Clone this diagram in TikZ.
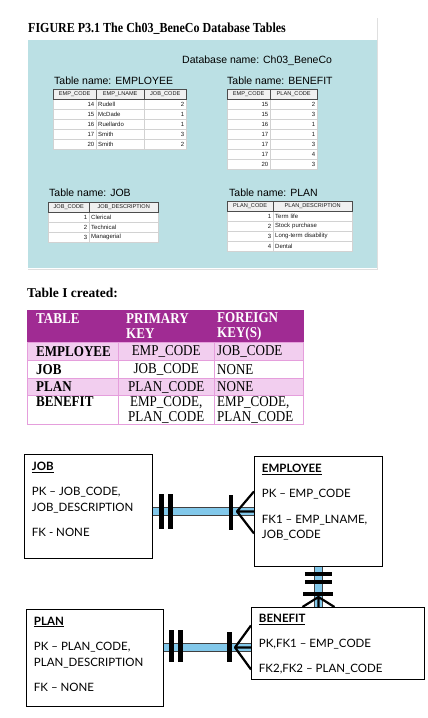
\documentclass[tikz,border=0pt]{standalone}
\usepackage{fontspec}
\setmainfont{Liberation Serif}
\setsansfont{Liberation Sans}
\newfontfamily\tblserif[FakeStretch=0.87]{Liberation Serif}
\newfontfamily\erfont{Lato}
\usetikzlibrary{positioning, calc}

\newcommand{\cellstrut}{\rule[-1pt]{0pt}{12pt}}

\begin{document}
\begin{tikzpicture}[
    x=1pt, y=-1pt,
    tname/.style={
        anchor=base west, inner sep=0pt, text=black,
        font=\sffamily\fontsize{10.5}{12}\selectfont
    },
    scell/.style n args={2}{
        rectangle, draw=gray!35, fill=white, anchor=north west,
        text width=#1, align=#2, minimum height=10pt,
        inner xsep=2pt, inner ysep=0pt, text=black!90,
        font=\sffamily\fontsize{6}{7}\selectfont
    },
    shead/.style={
        scell={#1}{center}, draw=gray!60!black, fill=gray!12,
        font=\sffamily\fontsize{5.6}{7}\selectfont
    },
    ptcell/.style n args={3}{
        rectangle, draw=ptLine, fill=#3, anchor=north west,
        text width=#1, minimum height=#2, align=left,
        inner xsep=3pt, inner ysep=0pt,
        font=\tblserif\fontsize{15}{15.5}\selectfont,
        execute at begin node=\cellstrut, execute at end node=\cellstrut
    },
    ptbold/.style={font=\tblserif\bfseries\fontsize{15}{15.5}\selectfont},
    entity/.style={
        rectangle, draw=black, line width=0.9pt, anchor=north west,
        inner xsep=7.5pt, inner ysep=4pt,
        font=\erfont\fontsize{11.5}{16.5}\selectfont
    },
    relline/.style={
        draw=black!75, line width=0.6pt, double=relBlue, double distance=7.5pt
    },
    onebar/.style={line width=4.5pt},
    crowfoot/.style={line width=2.2pt, line join=round},
]

\definecolor{panelBg}{RGB}{187,224,228}
\definecolor{ptHead}{RGB}{160,43,147}
\definecolor{ptBand}{RGB}{242,206,239}
\definecolor{ptLine}{RGB}{229,158,220}
\definecolor{relBlue}{RGB}{130,200,234}

\fill[white] (0,0) rectangle (428,718);
\useasboundingbox (0,0) rectangle (428,718);

% ============================================================
% Screenshot of the BeneCo tables
% ============================================================

\node[anchor=base west, inner sep=0pt, font=\tblserif\bfseries\fontsize{13.8}{15}\selectfont]
    (title) at (28,32) {FIGURE P3.1 The Ch03\_BeneCo Database Tables};

\fill[panelBg] (28,40) rectangle (377,268);
\draw[gray!25] (377.5,18) -- (377.5,269.5) -- (28,269.5);

\node[tname] (dbname) at (182,63.5) {Database name: Ch03\_BeneCo};

% EMPLOYEE
\foreach \ecode/\ename/\ejob [count=\r] in {14/Rudell/2, 15/McDade/1, 16/Ruellardo/1, 17/Smith/3, 20/Smith/2} {
    \node[scell={39pt}{right}] (ec\r) at (53,89+10*\r) {\ecode};
    \node[scell={44pt}{left}]  (en\r) at (96,89+10*\r) {\ename};
    \node[scell={38pt}{right}] (ej\r) at (144,89+10*\r) {\ejob};
}
\foreach \hd/\hx/\hw [count=\c] in {EMP\_CODE/53/39, EMP\_LNAME/96/44, JOB\_CODE/144/38}
    \node[shead=\hw pt] (eh\c) at (\hx,89) {\hd};
\node[tname] (tEmp) at ([xshift=1pt, yshift=5pt]eh1.north west) {Table name: EMPLOYEE};

% BENEFIT
\foreach \bcode/\bplan [count=\r] in {15/2, 15/3, 16/1, 17/1, 17/3, 17/4, 20/3} {
    \node[scell={39pt}{right}] (bc\r) at (227,89+10*\r) {\bcode};
    \node[scell={43pt}{right}] (bp\r) at (270,89+10*\r) {\bplan};
}
\foreach \hd/\hx/\hw [count=\c] in {EMP\_CODE/227/39, PLAN\_CODE/270/43}
    \node[shead=\hw pt] (bh\c) at (\hx,89) {\hd};
\node[tname] (tBen) at ([yshift=5pt]bh1.north west) {Table name: BENEFIT};

% JOB
\foreach \jcode/\jdesc [count=\r] in {1/Clerical, 2/Technical, 3/Managerial} {
    \node[scell={37pt}{right}] (jc\r) at (48,202+10*\r) {\jcode};
    \node[scell={65pt}{left}]  (jd\r) at (89,202+10*\r) {\jdesc};
}
\foreach \hd/\hx/\hw [count=\c] in {JOB\_CODE/48/37, JOB\_DESCRIPTION/89/65}
    \node[shead=\hw pt] (jh\c) at (\hx,202) {\hd};
\node[tname] (tJob) at ([xshift=1pt, yshift=6pt]jh1.north west) {Table name: JOB};

% PLAN
\foreach \pcode/\pdesc [count=\r] in {1/Term life, 2/Stock purchase, 3/Long-term disability, 4/Dental} {
    \node[scell={42pt}{right}] (pc\r) at (227,201+10*\r) {\pcode};
    \node[scell={75pt}{left}]  (pd\r) at (273,201+10*\r) {\pdesc};
}
\foreach \hd/\hx/\hw [count=\c] in {PLAN\_CODE/227/42, PLAN\_DESCRIPTION/273/75}
    \node[shead=\hw pt] (ph\c) at (\hx,201) {\hd};
\node[tname] (tPlan) at ([xshift=2pt, yshift=5pt]ph1.north west) {Table name: PLAN};

% ============================================================
% Key table
% ============================================================

\node[ptcell={73pt}{32pt}{ptHead}, ptbold, inner xsep=9pt, text=white, draw=ptHead]
    (hTable) at (27,310) {TABLE\\~};
\node[ptcell={80pt}{32pt}{ptHead}, ptbold, inner xsep=8pt, text=white, draw=ptHead]
    (hPK) at (118,310) {PRIMARY\\KEY};
\node[ptcell={83pt}{32pt}{ptHead}, ptbold, text=white, draw=ptHead]
    (hFK) at (214,310) {FOREIGN\\KEY(S)};

\foreach \rname/\rpk/\rfk/\rowy/\rowh/\rowfill [count=\r] in {
        EMPLOYEE/EMP\_CODE/JOB\_CODE/342/18/ptBand,
        JOB/JOB\_CODE/NONE/360/18/white,
        PLAN/PLAN\_CODE/NONE/378/17/ptBand,
        {BENEFIT\\~}/{EMP\_CODE,\\PLAN\_CODE}/{EMP\_CODE,\\PLAN\_CODE}/395/29/white} {
    \node[ptcell={73pt}{\rowh pt}{\rowfill}, ptbold, inner xsep=9pt] (rt\r) at (27,\rowy) {\rname};
    \node[ptcell={90pt}{\rowh pt}{\rowfill}, align=center] (rp\r) at (118,\rowy) {\rpk};
    \node[ptcell={83pt}{\rowh pt}{\rowfill}] (rf\r) at (214,\rowy) {\rfk};
}

\node[anchor=base west, inner sep=0pt, font=\bfseries\fontsize{13.5}{15}\selectfont]
    (created) at ([yshift=13pt]hTable.north west) {Table I created:};

% ============================================================
% ER diagram
% ============================================================

\node[entity] (job) at (24,454) {
    \begin{minipage}[t][96pt][t]{113pt}
    \vspace*{3.5pt}
    \underline{\textbf{JOB}}\\[8.5pt]
    PK – JOB\_CODE,\\
    JOB\_DESCRIPTION\\[8.5pt]
    FK - NONE
    \end{minipage}
};

\node[entity] (emp) at (254,456) {
    \begin{minipage}[t][102pt][t]{113pt}
    \vspace*{3.5pt}
    \underline{\textbf{EMPLOYEE}}\\[8.5pt]
    PK – EMP\_CODE\\[9.5pt]
    FK1 – EMP\_LNAME,\\[-1.5pt]
    JOB\_CODE
    \end{minipage}
};

\node[entity] (plan) at (26,609) {
    \begin{minipage}[t][89pt][t]{122pt}
    \vspace*{3.5pt}
    \underline{\textbf{PLAN}}\\[8.5pt]
    PK – PLAN\_CODE,\\
    PLAN\_DESCRIPTION\\[8.5pt]
    FK – NONE
    \end{minipage}
};

\node[entity] (ben) at (251,607) {
    \begin{minipage}[t][64pt][t]{158pt}
    \vspace*{3pt}
    \underline{\textbf{BENEFIT}}\\[8.5pt]
    PK,FK1 – EMP\_CODE\\[8.5pt]
    FK2,FK2 – PLAN\_CODE
    \end{minipage}
};

% JOB -- EMPLOYEE
\coordinate (je) at (job.east |- emp.west);
\draw[relline] (je) -- (emp.west);
\draw[onebar] ([xshift=8.5pt]je) ++(0,-17) -- ++(0,35);
\draw[onebar] ([xshift=17.5pt]je) ++(0,-17) -- ++(0,35);
\draw[onebar] ([xshift=-23pt]emp.west) ++(0,-16) -- ++(0,35);
\draw[crowfoot] ([yshift=20pt]emp.west) -- ([xshift=-17pt]emp.west) -- ([yshift=-22pt]emp.west)
    ([xshift=-17pt]emp.west) -- (emp.west);

% EMPLOYEE -- BENEFIT
\coordinate (eb) at (emp.south |- ben.north);
\draw[relline] (emp.south) -- (eb);
\draw[onebar] ([yshift=-7pt]emp.south) ++(-13.5,0) -- ++(27,0);
\draw[onebar] ([yshift=-15pt]emp.south) ++(-13.5,0) -- ++(27,0);
\draw[onebar] ([yshift=13pt]eb) ++(-15,0) -- ++(30,0);
\draw[crowfoot] ([xshift=-16pt]eb) -- ([yshift=10pt]eb) -- ([xshift=16pt]eb)
    ([yshift=10pt]eb) -- (eb);

% PLAN -- BENEFIT
\coordinate (bw) at ([yshift=-4pt]ben.west);
\coordinate (pe) at (plan.east |- bw);
\draw[relline] (pe) -- (bw);
\draw[onebar] ([xshift=7.5pt]pe) ++(0,-17) -- ++(0,32);
\draw[onebar] ([xshift=16.5pt]pe) ++(0,-17) -- ++(0,32);
\draw[onebar] ([xshift=-21.5pt]bw) ++(0,-15) -- ++(0,30);
\draw[crowfoot] ([yshift=22pt]bw) -- ([xshift=-16pt]bw) -- ([yshift=-22pt]bw)
    ([xshift=-16pt]bw) -- (bw);

\end{tikzpicture}
\end{document}
